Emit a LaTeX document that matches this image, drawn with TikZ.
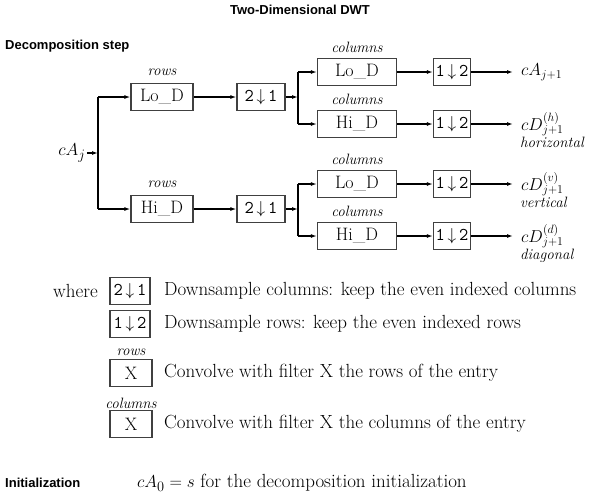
\documentclass[tikz,border=0pt]{standalone}
\usepackage{fontspec}
\newfontfamily\sansb{Liberation Sans}
\usetikzlibrary{arrows.meta}
\begin{document}
\begin{tikzpicture}[x=1pt,y=-1pt,
  box/.style={draw=black!75,line width=1.3pt,minimum height=27pt,inner sep=0pt,font=\fontsize{18}{20}\selectfont},
  flt/.style={box,minimum width=62pt},
  fltc/.style={box,minimum width=79pt},
  ds/.style={box,minimum width=48pt},
  dsc/.style={box,minimum width=37pt},
  lab/.style={font=\fontsize{15}{17}\selectfont\itshape,inner sep=0pt},
  txt/.style={font=\fontsize{19}{21}\selectfont,inner sep=0pt,anchor=west},
  hd/.style={font=\sansb\bfseries\fontsize{13}{15}\selectfont,inner sep=0pt,anchor=west},
  ar/.style={line width=1.2pt,-{Latex[length=6pt,width=4pt]}},
  ln/.style={line width=1.2pt}]
\useasboundingbox (0,0) rectangle (600,496);
\node[font=\sansb\bfseries\fontsize{13}{15}\selectfont] (title) at (300,10) {Two-Dimensional DWT};
\node[hd] (dec) at (5,46) {Decomposition step};
\node[inner sep=1pt,font=\fontsize{19}{21}\selectfont] (in) at (72,153) {$cA_j$};
\coordinate (j1) at (98,153);
\coordinate (j1t) at (98,97);
\coordinate (j1b) at (98,209);
\node[flt] (lo) at (162,97) {Lo\_D};
\node[flt] (hi) at (162,209) {Hi\_D};
\node[lab] (rl1) at (162,72) {rows};
\node[lab] (rl2) at (162,184) {rows};
\node[ds] (d1) at (261,97) {\texttt{2}$\,\downarrow\,$\texttt{1}};
\node[ds] (d2) at (261,209) {\texttt{2}$\,\downarrow\,$\texttt{1}};
\draw[ar] (in) -- (j1);
\draw[ln] (j1t) -- (j1b);
\draw[ar] (j1t) -- (lo);
\draw[ar] (j1b) -- (hi);
\draw[ar] (lo) -- (d1);
\draw[ar] (hi) -- (d2);
\foreach \n/\y/\f/\oo/\ww in {a/72/Lo/cA_{j+1}/,b/124/Hi/cD^{(h)}_{j+1}/horizontal,c/184/Lo/cD^{(v)}_{j+1}/vertical,d/236/Hi/cD^{(d)}_{j+1}/diagonal}{
  \node[fltc] (f\n) at (357,\y) {\f\_D};
  \node[lab] (c\n) at (357,\y-25) {columns};
  \node[dsc] (e\n) at (452,\y) {\texttt{1}$\,\downarrow\,$\texttt{2}};
  \node[inner sep=0pt,anchor=west,font=\fontsize{18}{20}\selectfont] (o\n) at (521,\y) {$\oo$};
  \node[lab,anchor=north west] (w\n) at (520,\y+13) {\ww};
  \draw[ar] (f\n) -- (e\n);
  \draw[ar] (e\n) -- ([xshift=-8pt]o\n.west);
}
\coordinate (k1) at (298,97);
\coordinate (k1t) at (298,72);
\coordinate (k1b) at (298,124);
\coordinate (k2) at (298,209);
\coordinate (k2t) at (298,184);
\coordinate (k2b) at (298,236);
\draw[ar] (d1) -- (k1);
\draw[ar] (d2) -- (k2);
\draw[ln] (k1t) -- (k1b);
\draw[ln] (k2t) -- (k2b);
\draw[ar] (k1t) -- (fa);
\draw[ar] (k1b) -- (fb);
\draw[ar] (k2t) -- (fc);
\draw[ar] (k2b) -- (fd);
% legend
\node[txt] (where) at (53,291) {where};
\node[ds,minimum width=40pt] (l1) at (130,291) {\texttt{2}$\,\downarrow\,$\texttt{1}};
\node[txt] (t1) at (164,291) {Downsample columns: keep the even indexed columns};
\node[ds,minimum width=40pt] (l2) at (130,324) {\texttt{1}$\,\downarrow\,$\texttt{2}};
\node[txt] (t2) at (164,324) {Downsample rows: keep the even indexed rows};
\node[lab] (l3l) at (131,352) {rows};
\node[box,minimum width=42pt] (l3) at (131,373) {X};
\node[txt] (t3) at (164,373) {Convolve with filter X the rows of the entry};
\node[lab] (l4l) at (131,403) {columns};
\node[box,minimum width=42pt] (l4) at (131,424) {X};
\node[txt] (t4) at (164,424) {Convolve with filter X the columns of the entry};
\node[hd] (ini) at (5,483) {Initialization};
\node[txt] (t5) at (137,483) {$cA_0 = s$ for the decomposition initialization};
\end{tikzpicture}
\end{document}
